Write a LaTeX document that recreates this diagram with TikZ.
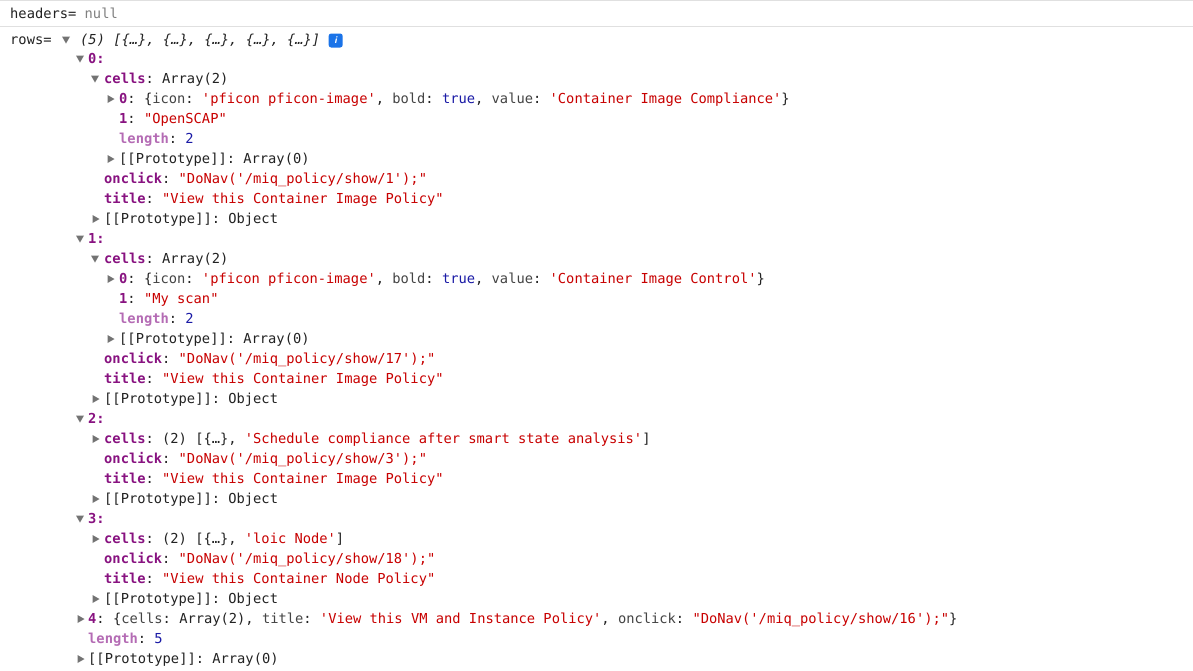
\documentclass[tikz,border=0pt]{standalone}
\usepackage{fontspec}
\setmonofont{DejaVu Sans Mono}
\definecolor{kp}{HTML}{881280}
\definecolor{kl}{HTML}{B46BB4}
\definecolor{sr}{HTML}{C80000}
\definecolor{nb}{HTML}{1A1AA6}
\definecolor{tx}{HTML}{222222}
\definecolor{gk}{HTML}{444444}
\definecolor{gn}{HTML}{808080}
\definecolor{ib}{HTML}{1A73E8}
\newcommand\K[1]{\textcolor{kp}{\bfseries #1}}
\newcommand\KL[1]{\textcolor{kl}{\bfseries #1}}
\newcommand\Str[1]{\textcolor{sr}{#1}}
\newcommand\Num[1]{\textcolor{nb}{#1}}
\newcommand\Gk[1]{\textcolor{gk}{#1}}
\begin{document}
\begin{tikzpicture}[x=1pt,y=-1pt,
  ln/.style={anchor=base west,inner sep=0pt,font=\ttfamily\fontsize{13.75}{16}\selectfont,text=tx},
  tri/.style={fill=gn!90!black}]
\newcommand\tdn[2]{\fill[tri] ({#1-4},{#2-3.5})--({#1+4},{#2-3.5})--(#1,{#2+3.5})--cycle;}
\newcommand\trt[2]{\fill[tri] ({#1-3.5},{#2-4})--({#1-3.5},{#2+4})--({#1+3.5},#2)--cycle;}
\useasboundingbox (0,0) rectangle (1193,670);
\fill[white] (0,0) rectangle (1193,670);
\draw[black!12] (0,0.5) -- (1193,0.5);
\draw[black!12] (0,26) -- (1193,26);
\node[ln] (l0) at (10,18.5) {headers= \textcolor{gn}{null}};
\node[ln] (l1) at (10,44.5) {rows=};
\tdn{66}{40}
\node[ln] (l1b) at (80,44.5) {\itshape (5) [\{…\}, \{…\}, \{…\}, \{…\}, \{…\}]};
\node[fill=ib,rounded corners=2.5pt,minimum size=14pt,inner sep=0pt,text=white,font=\sffamily\bfseries\itshape\normalsize,anchor=west] (info) at ([xshift=8pt]l1b.east |- 0,40.5) {i};
% row 0
\tdn{80}{59}\node[ln] (r0) at (88,63.5) {\K{0:}};
\tdn{95}{79}\node[ln] (r0c) at (104,83.5) {\K{cells}: Array(2)};
\trt{111}{99}\node[ln] (r0c0) at (119,103.5) {\K{0}: \{\Gk{icon}: \Str{'pficon pficon-image'}, \Gk{bold}: \Num{true}, \Gk{value}: \Str{'Container Image Compliance'}\}};
\node[ln] (r0c1) at (119,123.5) {\K{1}: \Str{"OpenSCAP"}};
\node[ln] (r0cl) at (119,143.5) {\KL{length}: \Num{2}};
\trt{111}{159}\node[ln] (r0cp) at (119,163.5) {[[Prototype]]: Array(0)};
\node[ln] (r0o) at (104,183.5) {\K{onclick}: \Str{"DoNav('/miq\_policy/show/1');"}};
\node[ln] (r0t) at (104,203.5) {\K{title}: \Str{"View this Container Image Policy"}};
\trt{96}{219}\node[ln] (r0p) at (104,223.5) {[[Prototype]]: Object};
% row 1
\tdn{80}{239}\node[ln] (r1) at (88,243.5) {\K{1:}};
\tdn{95}{259}\node[ln] (r1c) at (104,263.5) {\K{cells}: Array(2)};
\trt{111}{279}\node[ln] (r1c0) at (119,283.5) {\K{0}: \{\Gk{icon}: \Str{'pficon pficon-image'}, \Gk{bold}: \Num{true}, \Gk{value}: \Str{'Container Image Control'}\}};
\node[ln] (r1c1) at (119,303.5) {\K{1}: \Str{"My scan"}};
\node[ln] (r1cl) at (119,323.5) {\KL{length}: \Num{2}};
\trt{111}{339}\node[ln] (r1cp) at (119,343.5) {[[Prototype]]: Array(0)};
\node[ln] (r1o) at (104,363.5) {\K{onclick}: \Str{"DoNav('/miq\_policy/show/17');"}};
\node[ln] (r1t) at (104,383.5) {\K{title}: \Str{"View this Container Image Policy"}};
\trt{96}{399}\node[ln] (r1p) at (104,403.5) {[[Prototype]]: Object};
% row 2
\tdn{80}{419}\node[ln] (r2) at (88,423.5) {\K{2:}};
\trt{96}{439}\node[ln] (r2c) at (104,443.5) {\K{cells}: (2) [\{…\}, \Str{'Schedule compliance after smart state analysis'}]};
\node[ln] (r2o) at (104,463.5) {\K{onclick}: \Str{"DoNav('/miq\_policy/show/3');"}};
\node[ln] (r2t) at (104,483.5) {\K{title}: \Str{"View this Container Image Policy"}};
\trt{96}{499}\node[ln] (r2p) at (104,503.5) {[[Prototype]]: Object};
% row 3
\tdn{80}{519}\node[ln] (r3) at (88,523.5) {\K{3:}};
\trt{96}{539}\node[ln] (r3c) at (104,543.5) {\K{cells}: (2) [\{…\}, \Str{'loic Node'}]};
\node[ln] (r3o) at (104,563.5) {\K{onclick}: \Str{"DoNav('/miq\_policy/show/18');"}};
\node[ln] (r3t) at (104,583.5) {\K{title}: \Str{"View this Container Node Policy"}};
\trt{96}{599}\node[ln] (r3p) at (104,603.5) {[[Prototype]]: Object};
% row 4
\trt{81}{619}\node[ln] (r4) at (88,623.5) {\K{4}: \{\Gk{cells}: Array(2), \Gk{title}: \Str{'View this VM and Instance Policy'}, \Gk{onclick}: \Str{"DoNav('/miq\_policy/show/16');"}\}};
\node[ln] (len) at (88,643.5) {\KL{length}: \Num{5}};
\trt{81}{659}\node[ln] (proto) at (88,663.5) {[[Prototype]]: Array(0)};
\end{tikzpicture}
\end{document}
